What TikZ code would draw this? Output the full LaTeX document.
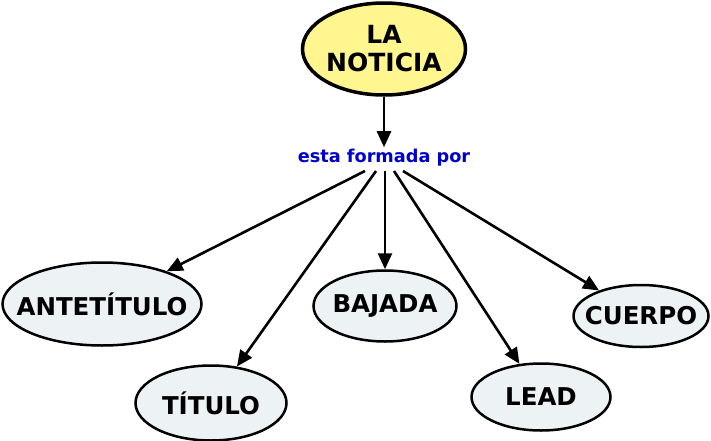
\documentclass[tikz,border=0pt]{standalone}
\usepackage{fontspec}
\setmainfont{DejaVu Sans}
\usetikzlibrary{shapes.geometric,arrows.meta}
\definecolor{topfill}{HTML}{FFF68F}
\definecolor{conc}{HTML}{EDF2F4}
\definecolor{linkblue}{HTML}{0000CC}
\newcommand{\zw}[1]{\makebox[0pt]{#1}}
\tikzset{
  concept/.style={ellipse,draw=black,line width=2.5pt,fill=conc,inner sep=0pt,
    font=\fontsize{24.5}{28}\selectfont\bfseries},
  mainconcept/.style={ellipse,draw=black,line width=3.5pt,fill=topfill,inner sep=0pt,
    align=center,font=\fontsize{25}{28}\selectfont\bfseries},
  linkword/.style={text=linkblue,inner sep=2pt,font=\fontsize{17.7}{20}\selectfont\bfseries},
  conn/.style={line width=2.6pt,-{Triangle[length=16pt,width=14pt]}}
}
\begin{document}
\begin{tikzpicture}[x=1pt,y=-1pt]
\useasboundingbox (0,0) rectangle (711,441);
\node[mainconcept,minimum width=163pt,minimum height=92pt] (top) at (384,49) {\zw{LA}\\\zw{NOTICIA}};
\node[linkword] (lbl) at (384,158) {esta formada por};
\node[concept,minimum width=199pt,minimum height=83pt] (ante) at (102,304) {\zw{ANTETÍTULO}};
\node[concept,minimum width=151pt,minimum height=75pt] (tit) at (211,403) {\zw{TÍTULO}};
\node[concept,minimum width=143pt,minimum height=71pt] (baj) at (385,306) {\zw{BAJADA}};
\node[concept,minimum width=139pt,minimum height=67pt] (lead) at (541,397) {\zw{LEAD}};
\node[concept,minimum width=135pt,minimum height=62pt] (cuer) at (641,316) {\zw{CUERPO}};
\coordinate (s1) at (365,171);
\coordinate (s2) at (376,171);
\coordinate (s3) at (385,171);
\coordinate (s4) at (394,171);
\coordinate (s5) at (403,171);
\draw[conn] (top.south) -- (lbl.north);
\draw[conn] (s1) -- (ante);
\draw[conn] (s2) -- (tit);
\draw[conn] (s3) -- (baj);
\draw[conn] (s4) -- (lead);
\draw[conn] (s5) -- (cuer);
\end{tikzpicture}
\end{document}
